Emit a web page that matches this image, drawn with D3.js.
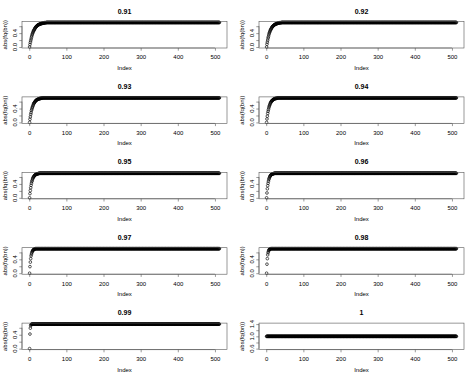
<!DOCTYPE html>
<html>
<meta charset="utf-8">
<style>
  body { margin: 0; background: #fff; }
  text { font-family: "Liberation Sans", Arial, sans-serif; fill: #000; }
  .title { font-size: 7px; font-weight: bold; }
  .tick text { font-size: 6px; }
  .lab { font-size: 6px; }
</style>
<script src="https://d3js.org/d3.v7.min.js"></script>
<body>
<script>
  var svgWidth = 474, svgHeight = 377;
  var nPoints = 512;

  var titles = ["0.91", "0.92", "0.93", "0.94", "0.95", "0.96", "0.97", "0.98", "0.99", "1"];

  // rising part of each series (index 1, 2, ...); after it the plateau
  var rise091 = [0.00,0.07,0.13,0.18,0.23,0.28,0.32,0.36,0.39,0.42,0.45,0.47,0.49,0.51,0.53,0.55,0.56,0.58,0.59,0.60,0.61,0.62,0.63,0.64,0.64,0.65,0.65,0.66,0.66,0.67,0.67,0.67,0.68,0.68,0.68,0.69,0.69,0.69,0.69,0.69,0.70,0.70,0.70,0.70,0.70];
  var rise092 = [0.00,0.08,0.14,0.20,0.26,0.30,0.35,0.39,0.42,0.45,0.48,0.50,0.52,0.54,0.56,0.58,0.59,0.60,0.61,0.62,0.63,0.64,0.65,0.65,0.66,0.66,0.67,0.67,0.68,0.68,0.68,0.69,0.69,0.69,0.69,0.70,0.70,0.70,0.70,0.70];
  var rise093 = [0.00,0.09,0.16,0.23,0.28,0.34,0.38,0.42,0.45,0.48,0.51,0.54,0.56,0.57,0.59,0.60,0.62,0.63,0.64,0.65,0.65,0.66,0.67,0.67,0.67,0.68,0.68,0.69,0.69,0.69,0.69,0.70,0.70,0.70,0.70];
  var rise094 = [0.00,0.10,0.18,0.26,0.32,0.37,0.42,0.46,0.49,0.52,0.55,0.57,0.59,0.61,0.62,0.63,0.64,0.65,0.66,0.67,0.67,0.68,0.68,0.69,0.69,0.69,0.69,0.70,0.70,0.70];
  var rise095 = [0.00,0.12,0.21,0.29,0.36,0.42,0.47,0.50,0.54,0.57,0.59,0.61,0.62,0.64,0.65,0.66,0.67,0.67,0.68,0.68,0.69,0.69,0.69,0.70,0.70,0.70];
  var rise096 = [0.00,0.14,0.26,0.35,0.42,0.48,0.53,0.56,0.59,0.62,0.63,0.65,0.66,0.67,0.68,0.68,0.69,0.69,0.69,0.70,0.70];
  var rise097 = [0.00,0.19,0.32,0.42,0.50,0.55,0.59,0.62,0.64,0.66,0.67,0.68,0.69,0.69,0.70,0.70];
  var rise098 = [0.00,0.26,0.42,0.53,0.59,0.63,0.66,0.68,0.69,0.69,0.70];
  var rise099 = [0.00,0.42,0.59,0.66,0.69,0.70];
  var rise1 = [1.00];

  var rises = [rise091, rise092, rise093, rise094, rise095, rise096, rise097, rise098, rise099, rise1];
  var plateaus = [0.707, 0.707, 0.707, 0.707, 0.707, 0.707, 0.707, 0.707, 0.707, 1.0];

  var xTicks = [0, 100, 200, 300, 400, 500];
  var yTicksLow = [0.0, 0.2, 0.4, 0.6];
  var yLabelsLow = [0.0, 0.4];
  var yTicksOne = [0.6, 0.8, 1.0, 1.2, 1.4];
  var yLabelsOne = [0.6, 1.0, 1.4];

  var cellW = svgWidth / 2, cellH = svgHeight / 5;
  var box = { left: 22, top: 21.5, width: 205, height: 26.5 };

  var svg = d3.select("body").append("svg")
    .attr("width", svgWidth)
    .attr("height", svgHeight);

  titles.forEach(function(t, p) {
    var rise = rises[p];
    var data = [];
    for (var i = 1; i <= nPoints; i++) {
      data.push({ index: i, value: i <= rise.length ? rise[i - 1] : plateaus[p] });
    }

    var col = p % 2, row = Math.floor(p / 2);
    var cell = svg.append("g")
      .attr("transform", "translate(" + (col * cellW) + "," + (row * cellH) + ")");
    var g = cell.append("g")
      .attr("transform", "translate(" + box.left + "," + box.top + ")");

    // R style 4% padding
    var xPad = (nPoints - 1) * 0.04;
    var x = d3.scaleLinear().domain([1 - xPad, nPoints + xPad]).range([0, box.width]);
    var yMin = d3.min(data, function(d) { return d.value; });
    var yMax = d3.max(data, function(d) { return d.value; });
    if (yMin == yMax) { yMin = yMin * 0.6; yMax = yMax * 1.4; }
    var yPad = (yMax - yMin) * 0.04;
    var y = d3.scaleLinear().domain([yMin - yPad, yMax + yPad]).range([box.height, 0]);

    var yTicks = p == 9 ? yTicksOne : yTicksLow;
    var yLabels = p == 9 ? yLabelsOne : yLabelsLow;

    g.append("g").selectAll("circle")
      .data(data)
      .enter()
      .append("circle")
      .attr("cx", function(d) { return x(d.index); })
      .attr("cy", function(d) { return y(d.value); })
      .attr("r", 1.35)
      .attr("fill", "none")
      .attr("stroke", "#000")
      .attr("stroke-width", 0.65);

    g.append("rect")
      .attr("width", box.width)
      .attr("height", box.height)
      .attr("fill", "none")
      .attr("stroke", "#555")
      .attr("stroke-width", 0.6);

    // x axis
    var xa = g.append("g")
      .attr("transform", "translate(0," + box.height + ")")
      .call(d3.axisBottom(x).tickValues(xTicks).tickSize(2.7).tickPadding(4.5).tickFormat(d3.format("d")));
    xa.select(".domain").remove();
    xa.selectAll("line").attr("stroke", "#555").attr("stroke-width", 0.6);
    xa.append("line")
      .attr("x1", x(xTicks[0])).attr("x2", x(xTicks[xTicks.length - 1]))
      .attr("stroke", "#555").attr("stroke-width", 0.6);

    // y axis
    var ya = g.append("g")
      .call(d3.axisLeft(y).tickValues(yTicks).tickSize(2.7).tickFormat(""));
    ya.select(".domain").remove();
    ya.selectAll("line").attr("stroke", "#555").attr("stroke-width", 0.6);
    ya.append("line")
      .attr("y1", y(yTicks[0])).attr("y2", y(yTicks[yTicks.length - 1]))
      .attr("stroke", "#555").attr("stroke-width", 0.6);
    ya.selectAll(".ylab")
      .data(yLabels)
      .enter()
      .append("text")
      .attr("class", "lab")
      .attr("text-anchor", "middle")
      .attr("transform", function(d) { return "translate(-5.5," + y(d) + ") rotate(-90)"; })
      .text(function(d) { return d3.format(".1f")(d); });

    cell.append("text")
      .attr("class", "title")
      .attr("text-anchor", "middle")
      .attr("x", box.left + box.width / 2)
      .attr("y", 13.5)
      .text(t);

    cell.append("text")
      .attr("class", "lab")
      .attr("text-anchor", "middle")
      .attr("x", box.left + box.width / 2)
      .attr("y", 70)
      .text("Index");

    cell.append("text")
      .attr("class", "lab")
      .attr("text-anchor", "middle")
      .attr("transform", "translate(6.5," + (box.top + box.height / 2) + ") rotate(-90)")
      .text("abs(fq(bn))");
  });
</script>
</body>
</html>
